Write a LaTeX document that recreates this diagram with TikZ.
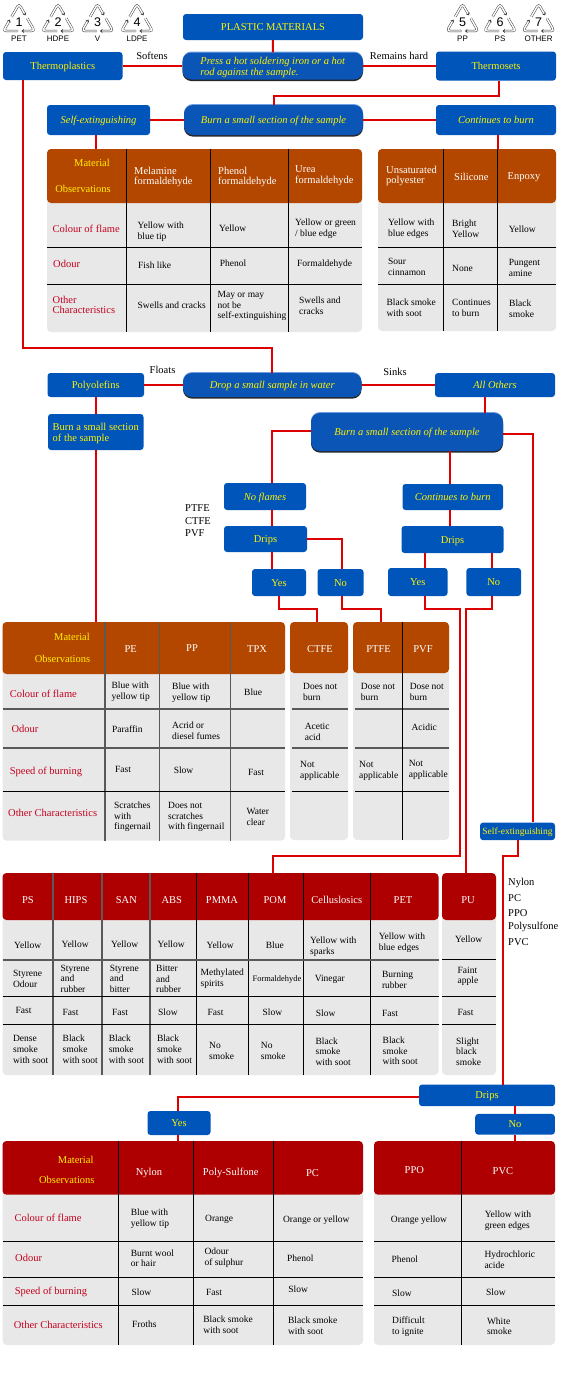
\documentclass[tikz,border=0pt]{standalone}
\usepackage{fontspec}
\setmainfont{Liberation Serif}
\newfontfamily\iconfont{Liberation Sans}
\usetikzlibrary{arrows.meta,calc,shadows}
\definecolor{boxblue}{HTML}{0055BB}
\definecolor{pillblue}{HTML}{0A55B5}
\definecolor{pilltop}{HTML}{6FA0E0}
\definecolor{linkred}{HTML}{DD0000}
\definecolor{headbrown}{HTML}{B34700}
\definecolor{headred}{HTML}{AE0000}
\definecolor{bodygray}{HTML}{E8E8E8}
\definecolor{labelred}{HTML}{C4001E}
\begin{document}
\begin{tikzpicture}[
    x=1pt, y=-1pt,
    bluebox/.style={fill=boxblue, rounded corners=3pt, inner sep=0pt, text=yellow, align=left,
        text height=8pt, text depth=1pt, font=\fontsize{10.5}{11}\selectfont},
    pill/.style={bluebox, fill=pillblue, rounded corners=9pt,
        copy shadow={shadow xshift=0pt, shadow yshift=1pt, draw=none, fill=pilltop},
        copy shadow={shadow xshift=0pt, shadow yshift=-1.6pt, draw=none, fill=black!85},
        font=\fontsize{10.5}{11}\selectfont\itshape},
    slanted/.style={font=\fontsize{10.5}{11}\selectfont\itshape},
    twolines/.style={text height=, text depth=},
    link/.style={draw=linkred, line width=2pt},
    bodybox/.style={fill=bodygray, rounded corners=4pt, inner sep=0pt},
    brownhead/.style={fill=headbrown, rounded corners=4pt, inner sep=0pt},
    redhead/.style={fill=headred, rounded corners=4pt, inner sep=0pt},
    rule/.style={draw=black, line width=.9pt},
    thickrule/.style={draw=black!65, line width=1.6pt},
    cell/.style={anchor=west, yshift=-1pt, align=left, inner sep=0pt, font=\fontsize{9.5}{10.7}\selectfont},
    rowlabel/.style={anchor=west, yshift=-1pt, align=left, inner sep=0pt, text=labelred,
        font=\fontsize{10.5}{10.7}\selectfont},
    headcell/.style={anchor=west, yshift=-1pt, align=left, inner sep=0pt, text=white,
        font=\fontsize{10.5}{10.7}\selectfont},
    headtitle/.style={yshift=-1pt, inner sep=0pt, text=white, font=\fontsize{10.5}{11}\selectfont},
    headkey/.style={yshift=-1pt, inner sep=0pt, text=yellow, font=\fontsize{10.5}{11}\selectfont},
    note/.style={yshift=-1pt, inner sep=0pt, font=\fontsize{10.5}{11}\selectfont},
    notelist/.style={anchor=west, yshift=-1pt, inner sep=0pt, font=\fontsize{10.5}{11}\selectfont},
    recycle/.style={draw=black!75, double=white, double distance=1.4pt, line width=.5pt,
        rounded corners=3pt, -{Stealth[length=2.5pt,width=4pt,fill=black!75]}}
]
\useasboundingbox (0,0) rectangle (560,1373);

\foreach \x/\d/\t in {19/1/PET, 58/2/HDPE, 97.5/3/V, 137/4/LDPE, 462.5/5/PP, 500/6/PS, 538.6/7/OTHER} {
    \foreach \r in {0,120,240} {
        \begin{scope}[shift={(\x,22)}, rotate=\r]
            \draw[recycle] ($(150:18)!.53!(270:18)$) -- (270:18) -- ($(270:18)!.42!(30:18)$);
        \end{scope}
    }
    \node[inner sep=0pt, font=\iconfont\fontsize{12.5}{13}\selectfont] (digit\d) at (\x,22.5) {\d};
    \node[inner sep=0pt, font=\iconfont\fontsize{8}{9}\selectfont] (icon\d) at (\x,38.5) {\t};
}

\node[bluebox, minimum width=180pt, minimum height=26pt] (title) at (273,27) {PLASTIC MATERIALS};
\node[pill, twolines, minimum width=180.5pt, minimum height=27pt] (press) at (272.75,66) {\rule{0pt}{9.5pt}Press a hot soldering iron or a hot\\rod against the sample.};
\node[bluebox, minimum width=119.5pt, minimum height=28pt] (thermoplastics) at (62.75,66) {Thermoplastics};
\node[bluebox, minimum width=120pt, minimum height=29pt] (thermosets) at (496,66) {Thermosets};
\node[note] (softens) at (152,55) {Softens};
\node[note] (remains) at (399,55) {Remains hard};

\node[pill, minimum width=179pt, minimum height=30pt] (burnA) at (273.5,120) {Burn a small section of the sample};
\node[bluebox, slanted, minimum width=103pt, minimum height=30pt] (selfA) at (98.5,120) {Self-extinguishing};
\node[bluebox, slanted, minimum width=120pt, minimum height=30pt] (contA) at (496,120) {Continues to burn};

\node[bodybox, minimum width=315pt, minimum height=183pt] (bodyA) at (204.5,240.5) {};
\node[brownhead, minimum width=315pt, minimum height=54pt] (headA) at (204.5,176) {};
\node[bodybox, minimum width=178pt, minimum height=182pt] (bodyB) at (467,240) {};
\node[brownhead, minimum width=178pt, minimum height=54pt] (headB) at (467,176) {};

\foreach \x in {126.5,210.5,288} \draw[rule] (\x,149) -- (\x,332);
\foreach \y in {247,284} \draw[rule] (47,\y) -- (362,\y);
\foreach \x in {443,497.5} \draw[rule] (\x,149) -- (\x,331);
\foreach \y in {247,284} \draw[rule] (378,\y) -- (556,\y);

\node[headkey] (keyA1) at (92,162) {Material};
\node[headkey] (keyA2) at (83,188) {Observations};
\foreach \x/\y/\t [count=\n] in {134/176/{Melamine\\formaldehyde}, 218/176/{Phenol\\formaldehyde}, 295/175/{Urea\\formaldehyde},
    386/175/{Unsaturated\\polyester}, 454/176/Silicone, 507.5/176/Enpoxy}
    \node[headcell] (topHead\n) at (\x,\y) {\t};
\foreach \x/\y/\t [count=\n] in {52.5/228/Colour of flame, 53/263/Odour, 52.5/304/{Other\\Characteristics}}
    \node[rowlabel] (topLabel\n) at (\x,\y) {\t};
\foreach \x/\y/\t [count=\n] in {137.5/231/{Yellow with\\blue tip}, 219/227/Yellow, 295/228/{Yellow or green\\/ blue edge},
    138/264/Fish like, 219.6/262/Phenol, 297/263/Formaldehyde,
    137.5/304/Swells and cracks, 217.5/305/{May or may\\not be\\self-extinguishing}, 299/305/{Swells and\\cracks},
    388/228/{Yellow with\\blue edges}, 452/228/{Bright\\Yellow}, 508.6/228/Yellow,
    388/266/{Sour\\cinnamon}, 452/267/None, 508.6/267/{Pungent\\amine},
    386.4/307/{Black smoke\\with soot}, 452/307/{Continues\\to burn}, 509/308/{Black\\smoke}}
    \node[cell] (topCell\n) at (\x,\y) {\t};

\node[pill, minimum width=178.5pt, minimum height=24pt] (drop) at (272.25,385) {Drop a small sample in water};
\node[bluebox, minimum width=96.5pt, minimum height=24pt] (polyolefins) at (95.75,385) {Polyolefins};
\node[bluebox, slanted, minimum width=120pt, minimum height=24pt] (allOthers) at (495,385) {All Others};
\node[note] (floats) at (162.5,369) {Floats};
\node[note] (sinks) at (395,370.7) {Sinks};
\node[bluebox, twolines, minimum width=95.5pt, minimum height=36pt] (burnLeft) at (95.75,432) {\rule{0pt}{9.5pt}Burn a small section\\of the sample};
\node[pill, minimum width=192pt, minimum height=38pt] (burnB) at (407,432) {Burn a small section of the sample};

\node[bluebox, slanted, minimum width=82pt, minimum height=27pt] (noFlames) at (265,496.5) {No flames};
\node[bluebox, slanted, minimum width=100.5pt, minimum height=26pt] (contB) at (452.75,497) {Continues to burn};
\node[bluebox, minimum width=83pt, minimum height=26pt] (dripsL) at (265.5,539) {Drips};
\node[bluebox, minimum width=102pt, minimum height=27pt] (dripsR) at (452.5,539.5) {Drips};
\node[bluebox, minimum width=54pt, minimum height=27pt] (yesL) at (279,582.5) {Yes};
\node[bluebox, minimum width=46pt, minimum height=27pt] (noL) at (340.5,582.5) {No};
\node[bluebox, minimum width=59.5pt, minimum height=28pt] (yesR) at (417.75,582) {Yes};
\node[bluebox, minimum width=54.6pt, minimum height=28pt] (noR) at (493.7,582) {No};
\node[notelist] (ptfe) at (185,507) {PTFE};
\node[notelist] (ctfe) at (185,520) {CTFE};
\node[notelist] (pvf) at (185,532) {PVF};

\node[bodybox, minimum width=282.5pt, minimum height=218.7pt] (bodyC) at (143.75,731.35) {};
\node[brownhead, minimum width=282.5pt, minimum height=52pt] (headC) at (143.75,648) {};
\node[bodybox, minimum width=58pt, minimum height=218pt] (bodyD) at (319,731) {};
\node[brownhead, minimum width=58pt, minimum height=51pt] (headD) at (319,647.5) {};
\node[bodybox, minimum width=96pt, minimum height=218pt] (bodyE) at (401,731) {};
\node[brownhead, minimum width=96pt, minimum height=51pt] (headE) at (401,647.5) {};

\foreach \x in {105,159.6,230.4} \draw[thickrule] (\x,622) -- (\x,841);
\foreach \y in {708.7,747.7} \draw[thickrule] (2.5,\y) -- (285,\y);
\draw[rule] (2.5,791) -- (285,791);
\foreach \y in {709,747.7} \draw[thickrule] (292,\y) -- (348,\y);
\draw[rule] (292,791) -- (348,791);
\foreach \y in {709,747.7} \draw[thickrule] (355,\y) -- (449,\y);
\draw[rule] (355,791) -- (449,791);
\draw[rule] (402.5,622) -- (402.5,840);

\node[headkey] (keyC1) at (72,636) {Material};
\node[headkey] (keyC2) at (62.5,658) {Observations};
\foreach \x/\y/\t [count=\n] in {130.7/647.7/PE, 192/647/PP, 257/648/TPX, 320/648/CTFE, 378.6/648/PTFE, 423/648/PVF}
    \node[headtitle] (midHead\n) at (\x,\y) {\t};
\foreach \x/\y/\t [count=\n] in {9.6/693/Colour of flame, 11.4/728/Odour, 9.6/771/Speed of burning, 8/812/Other Characteristics}
    \node[rowlabel] (midLabel\n) at (\x,\y) {\t};
\foreach \x/\y/\t [count=\n] in {111.4/690.7/{Blue with\\yellow tip}, 112/728/Paraffin, 115/768.7/Fast, 114/816/{Scratches\\with\\fingernail},
    172/691.7/{Blue with\\yellow tip}, 172/729.7/{Acrid or\\diesel fumes}, 173.6/769.7/Slow, 168/816/{Does not\\scratches\\with fingernail},
    244/691.7/Blue, 248/771.7/Fast, 246.4/816/{Water\\clear},
    303/690.7/{Does not\\burn}, 304.6/731/{Acetic\\acid}, 300/770/{Not\\applicable},
    360.7/690.7/{Dose not\\burn}, 409.6/690.7/{Dose not\\burn}, 411.4/726/Acidic,
    359/770/{Not\\applicable}, 408.6/769/{Not\\applicable}}
    \node[cell] (midCell\n) at (\x,\y) {\t};

\node[bluebox, minimum width=75pt, minimum height=17.5pt, font=\fontsize{9.5}{10}\selectfont] (selfB) at (517.5,831.4) {Self-extinguishing};
\foreach \y/\t [count=\n] in {882/Nylon, 896.7/PC, 911.7/PPO, 926.3/Polysulfone, 941/PVC}
    \node[notelist] (listed\n) at (508,\y) {\t};

\node[bodybox, minimum width=436.1pt, minimum height=202pt] (bodyF) at (220.55,974) {};
\node[redhead, minimum width=436.1pt, minimum height=47pt] (headF) at (220.55,896.5) {};
\node[bodybox, minimum width=54pt, minimum height=202pt] (bodyG) at (469,974) {};
\node[redhead, minimum width=54pt, minimum height=47pt] (headG) at (469,896.5) {};

\foreach \x in {53,102,150} \draw[thickrule] (\x,873) -- (\x,1075);
\foreach \x in {196,248.6,303.6,370.7} \draw[rule] (\x,873) -- (\x,1075);
\draw[thickrule] (2.5,959.7) -- (438.6,959.7);
\foreach \y in {996.7,1024.7} \draw[rule] (2.5,\y) -- (438.6,\y);
\foreach \y in {959.3,996.7,1024.7} \draw[rule] (442,\y) -- (496,\y);

\foreach \x/\t [count=\n] in {27.9/PS, 76/HIPS, 126.4/SAN, 171.8/ABS, 222/PMMA, 275/POM, 336.8/Celluslosics, 403/PET, 468/PU}
    \node[headtitle] (lowHead\n) at (\x,899) {\t};
\foreach \x/\y/\t [count=\n] in {14/944/Yellow, 61.4/943.3/Yellow, 111/943/Yellow, 157.5/943/Yellow, 206.4/944/Yellow, 265.7/944/Blue,
    310/946/{Yellow with\\sparks}, 378.6/942/{Yellow with\\blue edges},
    12.9/977.7/{Styrene\\Odour}, 60.4/977.7/{Styrene\\and\\rubber}, 109.6/977.7/{Styrene\\and\\bitter}, 156/978/{Bitter\\and\\rubber},
    200.4/977.7/{Methylated\\spirits}, 252.5/978.7/{\fontsize{8.4}{9}\selectfont Formaldehyde}, 314.6/978/Vinegar, 381.8/979/{Burning\\rubber},
    15.4/1009.7/Fast, 62.5/1011/Fast, 112/1011/Fast, 158/1011/Slow, 207.5/1011/Fast, 262.5/1011/Slow, 315.7/1012/Slow, 382/1012/Fast,
    12.9/1048.3/{Dense\\smoke\\with soot}, 62.5/1048.3/{Black\\smoke\\with soot}, 108.6/1048.3/{Black\\smoke\\with soot}, 156.8/1048.3/{Black\\smoke\\with soot},
    209/1050/{No\\smoke}, 260.7/1050/{No\\smoke}, 315.4/1050.7/{Black\\smoke\\with soot}, 382.5/1050/{Black\\smoke\\with soot},
    455/938.3/Yellow, 457.5/975.3/{Faint\\apple}, 457.5/1011/Fast, 456/1050.7/{Slight\\black\\smoke}}
    \node[cell] (lowCell\n) at (\x,\y) {\t};

\node[bluebox, minimum width=136pt, minimum height=21.5pt] (dripsC) at (487,1095.3) {Drips};
\node[bluebox, minimum width=63pt, minimum height=24pt] (yesC) at (179,1123) {Yes};
\node[bluebox, minimum width=79.6pt, minimum height=20.7pt] (noC) at (515,1124.3) {No};

\node[bodybox, minimum width=360.5pt, minimum height=204pt] (bodyH) at (182.75,1243) {};
\node[redhead, minimum width=360.5pt, minimum height=53.7pt] (headH) at (182.75,1167.85) {};
\node[bodybox, minimum width=181pt, minimum height=204pt] (bodyI) at (464.5,1243) {};
\node[redhead, minimum width=181pt, minimum height=53.7pt] (headI) at (464.5,1167.85) {};

\foreach \x in {118,193.6,273.6} \draw[rule] (\x,1141) -- (\x,1345);
\foreach \y in {1241.3,1277.3,1305.7} \draw[rule] (2.5,\y) -- (363,\y);
\draw[rule] (461.4,1141) -- (461.4,1345);
\foreach \y in {1241.3,1277.3,1305.7} \draw[rule] (374,\y) -- (555,\y);

\node[headkey] (keyH1) at (75.7,1159.3) {Material};
\node[headkey] (keyH2) at (66.8,1178.7) {Observations};
\foreach \x/\y/\t [count=\n] in {149/1171.7/Nylon, 230.7/1171.7/Poly-Sulfone, 312.5/1171.7/PC, 414.3/1169.3/PPO, 502.9/1169.7/PVC}
    \node[headtitle] (endHead\n) at (\x,\y) {\t};
\foreach \x/\y/\t [count=\n] in {14.3/1217.3/Colour of flame, 15/1257/Odour, 14.6/1291.3/Speed of burning, 13.6/1324.3/Other Characteristics}
    \node[rowlabel] (endLabel\n) at (\x,\y) {\t};
\foreach \x/\y/\t [count=\n] in {130.7/1217.7/{Blue with\\yellow tip}, 130.7/1257.3/{Burnt wool\\or hair}, 131.4/1291/Slow, 132/1323.7/Froths,
    205/1218/Orange, 204.3/1256.7/{Odour\\of sulphur}, 206/1291/Fast, 203.2/1323.7/{Black smoke\\with soot},
    282.9/1219.3/Orange or yellow, 286.8/1257.3/Phenol, 288.2/1288/Slow, 287.9/1325/{Black smoke\\with soot},
    390.7/1219.3/Orange yellow, 391.4/1258/Phenol, 392/1292.3/Slow, 392/1326/{Difficult\\to ignite},
    484.6/1220/{Yellow with\\green edges}, 484.3/1259/{Hydrochloric\\acide}, 486/1291/Slow, 486.8/1325.3/{White\\smoke}}
    \node[cell] (endCell\n) at (\x,\y) {\t};

\coordinate (setsBend) at (499,96);
\coordinate (plasticsBend) at (23,348);
\coordinate (selfDrop) at (95.5,140);
\coordinate (contDrop) at (497.5,140);
\coordinate (othersDrop) at (485,405);
\coordinate (flamesBend) at (272,431);
\coordinate (noLeftBend) at (342,539);
\coordinate (burnDrop) at (449.6,470);
\coordinate (yesRightBend) at (425,608.7);
\coordinate (noRightBend) at (492,608.7);
\coordinate (ctfeDrop) at (317,609);
\coordinate (pvfDrop) at (381.4,609);
\coordinate (longDrop) at (460,856);
\coordinate (manyDrop) at (272.5,873);
\coordinate (puDrop) at (466,873);
\coordinate (selfBend) at (533,434);
\coordinate (selfOut) at (518,856);
\coordinate (dripsIn) at (503,1085);
\coordinate (dripsYes) at (177.5,1096.7);

\draw[link] (title.south) -- (press.north);
\draw[link] (press.west) -- (thermoplastics.east);
\draw[link] (press.east) -- (thermosets.west);
\draw[link] (thermosets.south -| setsBend) -- (setsBend) -| (burnA.north);
\draw[link] (burnA.west) -- (selfA.east);
\draw[link] (burnA.east) -- (contA.west);
\draw[link] (selfA.south -| selfDrop) -- (headA.north -| selfDrop);
\draw[link] (contA.south -| contDrop) -- (headB.north -| contDrop);
\draw[link] (thermoplastics.south -| plasticsBend) -- (plasticsBend) -| (drop.north);
\draw[link] (drop.west) -- (polyolefins.east);
\draw[link] (drop.east) -- (allOthers.west);
\draw[link] (polyolefins.south) -- (burnLeft.north);
\draw[link] (burnLeft.south) -- (headC.north -| burnLeft);
\draw[link] (allOthers.south -| othersDrop) -- (burnB.north -| othersDrop);
\draw[link] (burnB.west |- flamesBend) -- (flamesBend) -- (noFlames.north -| flamesBend);
\draw[link] (noFlames.south -| flamesBend) -- (dripsL.north -| flamesBend);
\draw[link] (dripsL.south -| flamesBend) -- (yesL.north -| flamesBend);
\draw[link] (dripsL.east |- noLeftBend) -- (noLeftBend) -- (noL.north -| noLeftBend);
\draw[link] (burnB.south -| burnDrop) -- (contB.north -| burnDrop);
\draw[link] (contB.south -| burnDrop) -- (dripsR.north -| burnDrop);
\draw[link] (dripsR.south -| yesRightBend) -- (yesR.north -| yesRightBend);
\draw[link] (dripsR.south -| noRightBend) -- (noR.north -| noRightBend);
\draw[link] (yesL.south) |- (ctfeDrop) -- (headD.north -| ctfeDrop);
\draw[link] (noL.south -| noLeftBend) |- (pvfDrop) -- (headE.north -| pvfDrop);
\draw[link] (yesR.south -| yesRightBend) -- (yesRightBend) -| (longDrop) -| (manyDrop);
\draw[link] (noR.south -| noRightBend) -- (noRightBend) -| (puDrop);
\draw[link] (burnB.east |- selfBend) -- (selfBend) -- (selfB.north -| selfBend);
\draw[link] (selfB.south -| selfOut) -- (selfOut) -| (dripsIn);
\draw[link] (dripsC.west |- dripsYes) -- (dripsYes) -- (yesC.north -| dripsYes);
\draw[link] (yesC.south -| dripsYes) -- (headH.north -| dripsYes);
\draw[link] (dripsC.south -| noC) -- (noC.north);
\draw[link] (noC.south) -- (headI.north -| noC);

\end{tikzpicture}
\end{document}
